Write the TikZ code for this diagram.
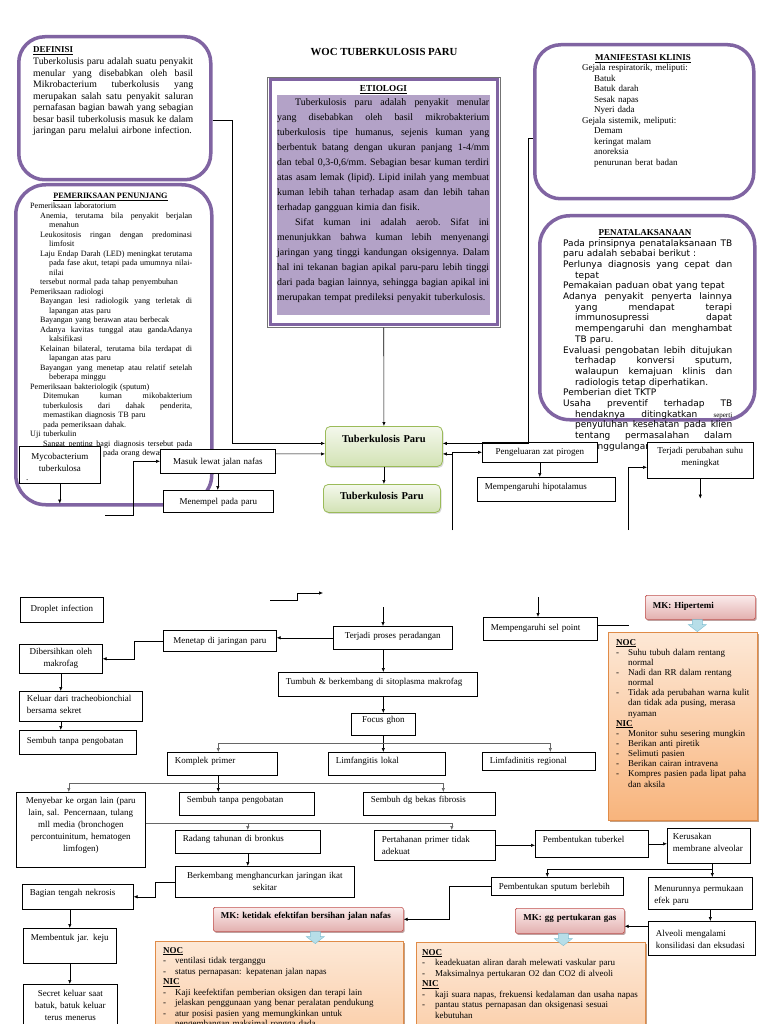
\documentclass[tikz,border=0pt]{standalone}
\usepackage{fontspec}
\setmainfont{Liberation Serif}
\newfontfamily\dvsans{DejaVu Sans}
\usetikzlibrary{arrows.meta,shadows,calc}
\definecolor{purp}{HTML}{8064A2}
\definecolor{lav}{HTML}{B3A2C7}
\definecolor{grL}{HTML}{F4F8EC}
\definecolor{grD}{HTML}{D2E2B4}
\definecolor{grB}{HTML}{9BBB59}
\definecolor{pkL}{HTML}{FBECEC}
\definecolor{pkD}{HTML}{E3B0AF}
\definecolor{pkB}{HTML}{C0504D}
\definecolor{orL}{HTML}{FDE8D6}
\definecolor{orD}{HTML}{F8B47C}
\definecolor{orB}{HTML}{E08B47}
\definecolor{blF}{HTML}{B7DEE8}
\definecolor{blB}{HTML}{7FBFD3}
\newcommand\FS[2]{\fontsize{#1}{#2}\selectfont}
\def\LW{100pt}
\def\JLsplit#1 #2\JLend{#1\if\relax\detokenize{#2}\relax\else\hskip\fontdimen2\font plus 1fil\relax\JLsplit#2\JLend\fi}
\newcommand\JL[2]{\hspace*{#1}\hbox to \dimexpr\LW-#1\relax{\JLsplit#2 \JLend}}
\newcommand\IL[2]{\hspace*{#1}#2}
\newcommand\Dsh[2]{\makebox[#1][l]{-}#2}
\newcommand\blockarrow[2]{\filldraw[fill=blF,draw=blB,line width=0.4pt] ($(#1.south)+(#2-5,0)$) -- ++(10,0) -- ++(0,5) -- ++(4,0) -- ++(-9,7) -- ++(-9,-7) -- ++(4,0) -- cycle;}
\begin{document}
\begin{tikzpicture}[x=1pt,y=-1pt,
  bx/.style={draw=black,line width=0.6pt,fill=white,anchor=north west,inner sep=0pt,font=\FS{9}{12},align=left},
  bW/.style={minimum width=#1,text width=#1-15},
  bT/.style={text height=#1},
  bD/.style={text depth=#1},
  ar/.style={-{Latex[length=4pt,width=3.4pt]},line width=0.6pt},
  gl/.style={draw=black!60},
  pbox/.style={draw=purp,line width=3.5pt,rounded corners=26pt,anchor=north west,inner sep=0pt},
  mk/.style={draw=pkB,rounded corners=1.5pt,top color=pkL,bottom color=pkD,drop shadow={shadow xshift=1.2pt,shadow yshift=-1.5pt,fill=pkB!60!black,opacity=0.45},font=\bfseries\FS{9}{11}},
  tbp/.style={draw=grB,line width=0.8pt,rounded corners=5pt,top color=grL,bottom color=grD,drop shadow={shadow xshift=1.2pt,shadow yshift=-1.5pt,opacity=0.3},font=\bfseries\FS{10.5}{12},align=center},
  orbox/.style={draw=orB,line width=0.8pt,top color=orL,bottom color=orD,anchor=north west,inner sep=0pt,drop shadow={shadow xshift=1.5pt,shadow yshift=-1.5pt,fill=orB!70!black,opacity=0.6}},
  txt/.style={anchor=base west,inner sep=0pt,align=left},
  ttl/.style={anchor=base,inner sep=0pt,font=\bfseries\FS{9}{11}},
]
\useasboundingbox (0,0) rectangle (768,1024);
\fill[white] (0,0) rectangle (768,1024);

% ---------- page 1 ----------
\node[ttl,font=\bfseries\FS{10.8}{12}] (title) at (384,56) {WOC TUBERKULOSIS PARU};

\node[pbox,minimum width=192,minimum height=143] (defbox) at (17,35) {};
\node[pbox,minimum width=196,minimum height=320,rounded corners=30pt] (penbox) at (14,183) {};
\node[pbox,minimum width=219,minimum height=154] (manbox) at (533,43) {};
\node[pbox,minimum width=215,minimum height=204,rounded corners=30pt] (talbox) at (538,214) {};

\node[ttl,anchor=base west] (deftitle) at (33,53) {\underline{DEFINISI}};
\def\LW{160pt}
\node[txt,text width=162,font=\FS{9.8}{11.5}] (deftext) at (33,65) {%
\JL{0pt}{Tuberkolusis paru adalah suatu penyakit}\\
\JL{0pt}{menular yang disebabkan oleh basil}\\
\JL{0pt}{Mikrobacterium tuberkolusis yang}\\
\JL{0pt}{merupakan salah satu penyakit saluran}\\
\JL{0pt}{pernafasan bagian bawah yang sebagian}\\
\JL{0pt}{besar basil tuberkolusis masuk ke dalam}\\
jaringan paru melalui airbone infection.};

\node[ttl,font=\bfseries\FS{8.2}{10}] (pentitle) at (110.5,198.5) {\underline{PEMERIKSAAN PENUNJANG}};
\def\LW{162pt}
\node[txt,text width=164,font=\FS{8.1}{9.5}] (pentext) at (30,208.5) {%
Pemeriksaan laboratorium\\
\JL{10pt}{Anemia, terutama bila penyakit berjalan}\\
\IL{19pt}{menahun}\\
\JL{10pt}{Leukositosis ringan dengan predominasi}\\
\IL{19pt}{limfosit}\\
\JL{10pt}{Laju Endap Darah (LED) meningkat terutama}\\
\JL{19pt}{pada fase akut, tetapi pada umumnya nilai-}\\
\IL{19pt}{nilai}\\
\IL{10pt}{tersebut normal pada tahap penyembuhan}\\
Pemeriksaan radiologi\\
\JL{10pt}{Bayangan lesi radiologik yang terletak di}\\
\IL{19pt}{lapangan atas paru}\\
\IL{10pt}{Bayangan yang berawan atau berbecak}\\
\JL{10pt}{Adanya kavitas tunggal atau gandaAdanya}\\
\IL{19pt}{kalsifikasi}\\
\JL{10pt}{Kelainan bilateral, terutama bila terdapat di}\\
\IL{19pt}{lapangan atas paru}\\
\JL{10pt}{Bayangan yang menetap atau relatif setelah}\\
\IL{19pt}{beberapa minggu}\\
Pemeriksaan bakteriologik (sputum)\\
\JL{13pt}{Ditemukan kuman mikobakterium}\\
\JL{13pt}{tuberkulosis dari dahak penderita,}\\
\IL{13pt}{memastikan diagnosis TB paru}\\
\IL{13pt}{pada pemeriksaan dahak.}\\
Uji tuberkulin\\
\JL{13pt}{Sangat penting bagi diagnosis tersebut pada}\\
\IL{73pt}{pada orang dewasa}};

\node[draw=black!55,line width=0.5pt,minimum width=233,minimum height=250,anchor=north west,inner sep=0pt] (etio) at (267,77) {};
\draw[purp,line width=3pt] ($(etio.north west)+(3,3)$) rectangle ($(etio.south east)+(-3,-3)$);
\fill[lav] (277,95) rectangle (490,315);
\node[ttl,font=\bfseries\FS{9.2}{11}] (etiotitle) at (383.5,92) {\underline{ETIOLOGI}};
\def\LW{212pt}
\node[txt,text width=214,font=\FS{9.9}{15}] (etiotext) at (277,106) {%
\JL{18pt}{Tuberkulosis paru adalah penyakit menular}\\
\JL{0pt}{yang disebabkan oleh basil mikrobakterium}\\
\JL{0pt}{tuberkulosis tipe humanus, sejenis kuman yang}\\
\JL{0pt}{berbentuk batang dengan ukuran panjang 1-4/mm}\\
\JL{0pt}{dan tebal 0,3-0,6/mm. Sebagian besar kuman terdiri}\\
\JL{0pt}{atas asam lemak (lipid). Lipid inilah yang membuat}\\
\JL{0pt}{kuman lebih tahan terhadap asam dan lebih tahan}\\
terhadap gangguan kimia dan fisik.\\
\JL{18pt}{Sifat kuman ini adalah aerob. Sifat ini}\\
\JL{0pt}{menunjukkan bahwa kuman lebih menyenangi}\\
\JL{0pt}{jaringan yang tinggi kandungan oksigennya. Dalam}\\
\JL{0pt}{hal ini tekanan bagian apikal paru-paru lebih tinggi}\\
\JL{0pt}{dari pada bagian lainnya, sehingga bagian apikal ini}\\
merupakan tempat predileksi penyakit tuberkulosis.};

\node[ttl] (mantitle) at (643,61) {\underline{MANIFESTASI KLINIS}};
\node[txt,text width=168,font=\FS{9}{10.5}] (mantext) at (582,71) {%
Gejala respiratorik, meliputi:\\
\IL{12pt}{Batuk}\\
\IL{12pt}{Batuk darah}\\
\IL{12pt}{Sesak napas}\\
\IL{12pt}{Nyeri dada}\\
Gejala sistemik, meliputi:\\
\IL{12pt}{Demam}\\
\IL{12pt}{keringat malam}\\
\IL{12pt}{anoreksia}\\
\IL{12pt}{penurunan berat badan}};

\node[ttl] (taltitle) at (645,236) {\underline{PENATALAKSANAAN}};
\def\LW{169pt}
\node[txt,text width=172,font=\dvsans\FS{9}{10.7}] (taltext) at (563,246) {%
\JL{0pt}{Pada prinsipnya penatalaksanaan TB}\\
paru adalah sebabai berikut :\\
\JL{0pt}{Perlunya diagnosis yang cepat dan}\\
\IL{12pt}{tepat}\\
Pemakaian paduan obat yang tepat\\
\JL{0pt}{Adanya penyakit penyerta lainnya}\\
\JL{12pt}{yang mendapat terapi}\\
\JL{12pt}{immunosupressi dapat}\\
\JL{12pt}{mempengaruhi dan menghambat}\\
\IL{12pt}{TB paru.}\\
\JL{0pt}{Evaluasi pengobatan lebih ditujukan}\\
\JL{12pt}{terhadap konversi sputum,}\\
\JL{12pt}{walaupun kemajuan klinis dan}\\
\IL{12pt}{radiologis tetap diperhatikan.}\\
Pemberian diet TKTP\\
\JL{0pt}{Usaha preventif terhadap TB}\\
\JL{12pt}{hendaknya ditingkatkan {\rmfamily\FS{7}{8}seperti}}\\
\JL{12pt}{penyuluhan kesehatan pada klien}\\
\JL{12pt}{tentang permasalahan dalam}\\
\IL{12pt}{penanggulangan}};

% flow boxes page 1
\node[bx,bW=81,bT=13,bD=24,align=center] (myco) at (19,446) {Mycobacterium\\tuberkulosa};
\node[txt,font=\FS{9}{12}] (mdot) at (26,480) {.};
\node[bx,bW=115,bT=15,bD=9,align=center] (masuk) at (160,449) {Masuk lewat jalan nafas};
\node[bx,bW=110,bT=14,bD=8,align=center] (menempel) at (163,490) {Menempel pada paru};
\node[bx,tbp,bW=117,bT=16,bD=24] (tb1) at (325,426) {Tuberkulosis Paru};
\node[bx,tbp,bW=117,bT=15,bD=13] (tb2) at (323,484) {Tuberkulosis Paru};
\node[bx,bW=115,bT=12,bD=8,align=center] (pirogen) at (482,442) {Pengeluaran zat pirogen};
\node[bx,bW=138,bT=12,bD=12] (hipot) at (477,477) {Mempengaruhi hipotalamus};
\node[bx,bW=106,bT=11,bD=25,align=center] (suhu) at (647,442) {Terjadi perubahan suhu\\meningkat};

% connectors page 1
\draw[ar] (etio.south) -- (tb1.north);
\draw[ar] ([yshift=-12.5pt]defbox.east) -- ++(20,0) |- ([yshift=3pt]tb1.west);
\draw[ar] ([yshift=7.5pt]masuk.east) -- ([yshift=-7.5pt]tb1.west);
\draw[ar] ([yshift=-17pt]manbox.west) -- ++(-5,0) |- ([yshift=3pt]tb1.east);
\coordinate (v1) at (452,530);
\draw[ar] (v1) |- ([yshift=-7.5pt]tb1.east);
\draw[ar] (v1) |- (pirogen.west);
\draw[ar] (pirogen.south) -- (pirogen.south |- hipot.north);
\coordinate (v2) at (628,530);
\draw[ar] (v2) |- ([yshift=-7pt]suhu.west);
\draw[ar] (suhu.south) -- ++(0,20);
\draw[ar] (myco.south) -- ++(0,20);
\draw[ar] (masuk.south) -- (masuk.south |- menempel.north);
\coordinate (m0) at (105,515);
\draw[ar] (m0) -- ++(28,0) |- (masuk.west);
\draw[ar] (tb1.south) -- (tb1.south |- tb2.north);

% ---------- page 2 ----------
\node[bx,bW=83,bT=14,bD=11,align=center] (droplet) at (20,597) {Droplet infection};
\node[bx,bW=113,bT=13,bD=8,align=center] (menetap) at (163,630) {Menetap di jaringan paru};
\node[bx,bW=119,bT=12,bD=11,align=center] (peradangan) at (333,626) {Terjadi proses peradangan};
\node[bx,bW=83,bT=10,bD=19,align=center] (dibersih) at (19,644) {Dibersihkan oleh\\makrofag};
\node[bx,bW=199,bT=12,bD=12] (tumbuh) at (278,672) {Tumbuh \& berkembang di sitoplasma makrofag};
\node[bx,bW=123,bT=10,bD=20] (keluar) at (19,691) {Keluar dari tracheobionchial\\bersama sekret};
\node[bx,bW=117,bT=13,bD=11] (sembuh1) at (19,730) {Sembuh tanpa pengobatan};
\node[bx,bW=64,bT=9,bD=13,align=center] (focus) at (351,713) {Focus ghon};
\node[bx,bW=110,bT=11,bD=12] (komplek) at (167,752) {Komplek primer};
\node[bx,bW=117,bT=11,bD=12] (limfang) at (328,752) {Limfangitis lokal};
\node[bx,bW=113,bT=11,bD=7] (limfad) at (482,752) {Limfadinitis regional};
\node[bx,bW=114,bT=13,bD=10] (sehpoint) at (483,617) {Mempengaruhi sel point};
\node[bx,mk,bW=110,bT=13,bD=11] (mkhip) at (645,595) {MK: Hipertemi};

\node[orbox,minimum width=149,minimum height=188] (noc1) at (608,632) {};
\node[txt,text width=138,font=\FS{9}{10.15}] (noc1text) at (616,645) {%
\textbf{\underline{NOC}}\\
\Dsh{12pt}{Suhu tubuh dalam rentang}\\
\IL{12pt}{normal}\\
\Dsh{12pt}{Nadi dan RR dalam rentang}\\
\IL{12pt}{normal}\\
\Dsh{12pt}{Tidak ada perubahan warna kulit}\\
\IL{12pt}{dan tidak ada pusing, merasa}\\
\IL{12pt}{nyaman}\\
\textbf{\underline{NIC}}\\
\Dsh{12pt}{Monitor suhu sesering mungkin}\\
\Dsh{12pt}{Berikan anti piretik}\\
\Dsh{12pt}{Selimuti pasien}\\
\Dsh{12pt}{Berikan cairan intravena}\\
\Dsh{12pt}{Kompres pasien pada lipat paha}\\
\IL{12pt}{dan aksila}};

\node[bx,bW=129,bT=11,bD=64,align=center] (menyebar) at (16,792) {Menyebar ke organ lain (paru\\lain, sal. Pencernaan, tulang\\mll media (bronchogen\\percontuinitum, hematogen\\limfogen)};
\node[bx,bW=135,bT=10,bD=13] (sembuh2) at (179,792) {Sembuh tanpa pengobatan};
\node[bx,bW=132,bT=10,bD=13] (fibrosis) at (363,792) {Sembuh dg bekas fibrosis};
\node[bx,bW=145,bT=11,bD=12] (radang) at (175,830) {Radang tahunan di bronkus};
\node[bx,bW=121,bT=12,bD=18] (pertahanan) at (374,830) {Pertahanan primer tidak\\adekuat};
\node[bx,bW=179,bT=12,bD=19,align=center] (berkembang) at (175,866) {Berkembang menghancurkan jaringan ikat\\sekitar};
\node[bx,bW=111,bT=11,bD=14] (nekrosis) at (22,884) {Bagian tengah nekrosis};
\node[bx,bW=93,bT=12,bD=23,align=center] (keju) at (23,928) {Membentuk jar. keju};
\node[bx,bW=94,bT=12,bD=44,align=center] (secret) at (23,984) {Secret keluar saat\\batuk, batuk keluar\\terus menerus};
\node[bx,mk,bW=190,bT=11,bD=13] (mkjalan) at (213,907) {MK: ketidak efektifan bersihan jalan nafas};
\node[bx,bW=113,bT=12,bD=15] (tuberkel) at (535,830) {Pembentukan tuberkel};
\node[bx,bW=83,bT=11,bD=24,text width=72] (kerusakan) at (667,828) {Kerusakan\\membrane alveolar};
\node[bx,bW=132,bT=12,bD=6] (sputum) at (491,877) {Pembentukan sputum berlebih};
\node[bx,bW=104,bT=14,bD=18,text width=92] (menurun) at (648,877) {Menurunnya permukaan\\efek paru};
\node[bx,bW=107,bT=15,bD=19] (alveoli) at (648,921) {Alveoli mengalami\\konsilidasi dan eksudasi};
\node[bx,mk,bW=109,bT=12,bD=13,text width=100,align=center] (mkgas) at (515,908) {MK: gg pertukaran gas};

\node[orbox,minimum width=248,minimum height=188] (noc2) at (155,941) {};
\node[txt,text width=235,font=\FS{9}{10.5}] (noc2text) at (163,953) {%
\textbf{\underline{NOC}}\\
\Dsh{12pt}{ventilasi tidak terganggu}\\
\Dsh{12pt}{status pernapasan: kepatenan jalan napas}\\
\textbf{\underline{NIC}}\\
\Dsh{12pt}{Kaji keefektifan pemberian oksigen dan terapi lain}\\
\Dsh{12pt}{jelaskan penggunaan yang benar peralatan pendukung}\\
\Dsh{12pt}{atur posisi pasien yang memungkinkan untuk}\\
\IL{12pt}{pengembangan maksimal rongga dada}};

\node[orbox,minimum width=229,minimum height=188] (noc3) at (416,942) {};
\node[txt,text width=222,font=\FS{9}{10.5}] (noc3text) at (422,955) {%
\textbf{\underline{NOC}}\\
\Dsh{13pt}{keadekuatan aliran darah melewati vaskular paru}\\
\Dsh{13pt}{Maksimalnya pertukaran O2 dan CO2 di alveoli}\\
\textbf{\underline{NIC}}\\
\Dsh{13pt}{kaji suara napas, frekuensi kedalaman dan usaha napas}\\
\Dsh{13pt}{pantau status pernapasan dan oksigenasi sesuai}\\
\IL{13pt}{kebutuhan}};

\blockarrow{mkhip}{-3}
\blockarrow{mkjalan}{7}
\blockarrow{mkgas}{-6.5}

% connectors page 2
\coordinate (c1) at (270,600);
\draw[ar] (c1) -- ++(27,0) -- ++(0,-7) -- ++(26,0);
\coordinate (c2) at (383,607);
\draw[ar] (c2) -- (c2 |- peradangan.north);
\coordinate (c3) at (538,597);
\draw[ar] (c3) -- (c3 |- sehpoint.north);
\draw[line width=0.6pt] ([yshift=3.5pt]sehpoint.east) -- ++(31,0);
\draw[ar] (peradangan.west) -- (peradangan.west -| menetap.east);
\draw[ar] (menetap.west) -- ++(-29,0) |- (dibersih.east);
\draw[ar] (dibersih.south) -- (dibersih.south |- keluar.north);
\draw[ar] (keluar.south -| dibersih.south) -- (dibersih.south |- sembuh1.north);
\draw[ar] (focus.north |- peradangan.south) -- (focus.north |- tumbuh.north);
\draw[ar] (focus.north |- tumbuh.south) -- (focus.north);
\coordinate (fj) at ($(focus.south)+(0,8)$);
\draw[ar] (focus.south) -- (focus.south |- limfang.north);
\draw[ar,gl] (fj) -| ([xshift=-4pt]komplek.north);
\draw[ar,gl] (fj) -| ([xshift=11.5pt]limfad.north);
\coordinate (kj) at ($(komplek.south)+(-4,8)$);
\draw[ar] (komplek.south -| kj) -- (kj |- sembuh2.north);
\draw[ar,gl] (kj) -| ([xshift=-12pt]menyebar.north);
\draw[ar,gl] (kj) -| ([xshift=14pt]fibrosis.north);
\coordinate (mj) at ($(menyebar.east)+(0,-6.5)$);
\draw[ar,gl] (mj) -| (radang.north);
\draw[ar,gl] (mj) -| ([xshift=17pt]pertahanan.north);
\draw[ar] (radang.south) -- (radang.south |- berkembang.north);
\draw[ar] (berkembang.west) -- ++(-20,0) |- (nekrosis.east);
\draw[ar] (keju.north |- nekrosis.south) -- (keju.north);
\draw[ar] (keju.south) -- (keju.south |- secret.north);
\draw[ar] (pertahanan.east) -- (pertahanan.east -| tuberkel.west);
\draw[ar] (tuberkel.east) -- (tuberkel.east -| kerusakan.west);
\coordinate (kr) at ($(kerusakan.south)+(3.5,6)$);
\draw[line width=0.6pt] (kerusakan.south -| kr) -- (kr);
\draw[ar] (kr) -- (kr |- menurun.north);
\draw[ar] (kr) -| ([xshift=-10pt]sputum.north);
\draw[ar] ([xshift=10pt]menurun.south) -- ([xshift=10pt]menurun.south |- alveoli.north);
\draw[ar] ([yshift=12pt]alveoli.west) -- ([yshift=12pt]alveoli.west -| mkgas.east);
\draw[ar] (sputum.west) -- ++(-42,0) |- (mkjalan.east);
\end{tikzpicture}
\end{document}
